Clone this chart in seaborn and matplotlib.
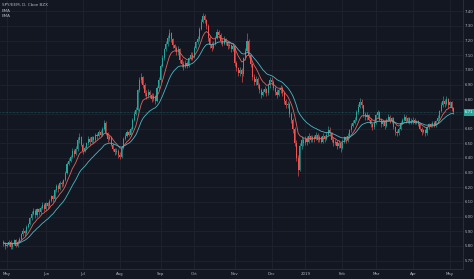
import numpy as np
import pandas as pd
import matplotlib
matplotlib.use("Agg")
import matplotlib.pyplot as plt
import seaborn as sns

# ---------------- data ----------------
title_text = "SPY/EEM, D, Cboe BZX"
ema_labels = ["EMA", "EMA"]
month_labels = ["May", "Jun", "Jul", "Aug", "Sep", "Oct", "Nov", "Dec",
                "2019", "Feb", "Mar", "Apr", "May"]
price_ticks = [7.40, 7.30, 7.20, 7.10, 7.00, 6.90, 6.80, 6.70, 6.60,
               6.50, 6.40, 6.30, 6.20, 6.10, 6.00, 5.90, 5.80, 5.70]
holidays = ["2018-05-28", "2018-07-04", "2018-09-03", "2018-11-22",
            "2018-12-05", "2018-12-25", "2019-01-01", "2019-01-21",
            "2019-02-18", "2019-04-19"]
first_open = 5.83
last_label = "6.71"

closes = [
    5.82, 5.80,
    5.81, 5.83, 5.79, 5.82, 5.84, 5.80, 5.83, 5.85, 5.88, 5.90, 5.89, 5.93, 5.95, 5.99, 6.02, 6.04, 6.01, 6.05, 6.03, 6.06, 6.08, 6.05,
    6.09, 6.07, 6.11, 6.14, 6.12, 6.18, 6.21, 6.19, 6.23, 6.22, 6.25, 6.30, 6.36, 6.38, 6.41, 6.45, 6.43, 6.46, 6.52, 6.54, 6.49,
    6.45, 6.47, 6.50, 6.53, 6.51, 6.54, 6.52, 6.56, 6.55, 6.58, 6.56, 6.60, 6.64, 6.57, 6.53, 6.54, 6.49, 6.46, 6.44, 6.45, 6.42,
    6.41, 6.47, 6.53, 6.55, 6.58, 6.56, 6.60, 6.66, 6.70, 6.73, 6.86, 6.93, 6.95, 6.90, 6.84, 6.82, 6.85, 6.83, 6.80, 6.82, 6.79, 6.88, 6.93,
    7.03, 7.08, 7.14, 7.18, 7.22, 7.25, 7.21, 7.17, 7.15, 7.12, 7.14, 7.07, 7.04, 7.02, 7.05, 7.03, 7.08, 7.10, 7.09,
    7.15, 7.19, 7.21, 7.28, 7.33, 7.37, 7.34, 7.30, 7.22, 7.17, 7.15, 7.18, 7.22, 7.26, 7.24, 7.20, 7.18, 7.21, 7.19, 7.16, 7.17, 7.14, 7.16,
    7.05, 7.01, 6.98, 7.00, 6.97, 7.08, 7.13, 7.20, 7.10, 7.04, 6.95, 6.92, 6.94, 6.90, 6.86, 6.83, 6.85, 6.87, 6.84, 6.90, 6.93,
    6.92, 6.88, 6.85, 6.83, 6.86, 6.88, 6.84, 6.79, 6.76, 6.77, 6.70, 6.66, 6.60, 6.50, 6.40, 6.32, 6.48, 6.52, 6.50,
    6.53, 6.51, 6.55, 6.52, 6.54, 6.53, 6.56, 6.52, 6.54, 6.51, 6.55, 6.53, 6.56, 6.59, 6.57, 6.52, 6.50, 6.51, 6.48, 6.50, 6.47,
    6.51, 6.54, 6.52, 6.55, 6.59, 6.62, 6.64, 6.66, 6.71, 6.75, 6.78, 6.76, 6.70, 6.68, 6.69, 6.66, 6.63, 6.61, 6.64,
    6.69, 6.71, 6.66, 6.63, 6.65, 6.62, 6.66, 6.68, 6.65, 6.67, 6.61, 6.58, 6.57, 6.60, 6.64, 6.66, 6.68, 6.65, 6.67, 6.64, 6.65,
    6.66, 6.64, 6.65, 6.63, 6.60, 6.58, 6.59, 6.57, 6.61, 6.63, 6.62, 6.64, 6.62, 6.65, 6.67, 6.72, 6.76, 6.79, 6.77, 6.80, 6.76,
    6.78, 6.74, 6.71,
]
highs = [
    5.84, 5.83,
    5.82, 5.84, 5.84, 5.83, 5.85, 5.85, 5.84, 5.86, 5.89, 5.92, 5.91, 5.94, 5.96, 6.00, 6.04, 6.06, 6.05, 6.06, 6.06, 6.07, 6.10, 6.09,
    6.10, 6.10, 6.12, 6.15, 6.15, 6.19, 6.22, 6.22, 6.24, 6.24, 6.26, 6.31, 6.37, 6.40, 6.42, 6.47, 6.46, 6.48, 6.54, 6.57, 6.55,
    6.50, 6.48, 6.51, 6.55, 6.54, 6.55, 6.55, 6.57, 6.57, 6.59, 6.59, 6.61, 6.66, 6.65, 6.58, 6.56, 6.55, 6.50, 6.47, 6.47, 6.46,
    6.44, 6.48, 6.54, 6.57, 6.59, 6.59, 6.61, 6.67, 6.72, 6.75, 6.87, 6.95, 6.98, 6.96, 6.91, 6.86, 6.87, 6.86, 6.84, 6.84, 6.83, 6.89, 6.95,
    7.04, 7.10, 7.15, 7.20, 7.24, 7.28, 7.26, 7.22, 7.18, 7.16, 7.16, 7.15, 7.08, 7.06, 7.07, 7.06, 7.09, 7.12, 7.12,
    7.16, 7.20, 7.23, 7.29, 7.35, 7.39, 7.38, 7.35, 7.31, 7.23, 7.19, 7.20, 7.23, 7.28, 7.27, 7.25, 7.22, 7.23, 7.22, 7.20, 7.19, 7.18, 7.17,
    7.17, 7.06, 7.02, 7.02, 7.01, 7.09, 7.15, 7.25, 7.21, 7.11, 7.05, 6.97, 6.96, 6.95, 6.91, 6.88, 6.87, 6.89, 6.88, 6.91, 6.95,
    6.95, 6.93, 6.89, 6.87, 6.88, 6.90, 6.89, 6.85, 6.80, 6.79, 6.78, 6.71, 6.67, 6.61, 6.52, 6.42, 6.50, 6.55, 6.54,
    6.55, 6.55, 6.57, 6.56, 6.56, 6.56, 6.58, 6.57, 6.56, 6.55, 6.57, 6.56, 6.58, 6.62, 6.61, 6.58, 6.54, 6.53, 6.52, 6.52, 6.51,
    6.53, 6.55, 6.55, 6.57, 6.60, 6.64, 6.66, 6.68, 6.73, 6.77, 6.81, 6.80, 6.75, 6.71, 6.71, 6.70, 6.67, 6.64, 6.66,
    6.70, 6.73, 6.72, 6.67, 6.66, 6.66, 6.67, 6.70, 6.69, 6.68, 6.68, 6.62, 6.59, 6.61, 6.65, 6.67, 6.70, 6.69, 6.68, 6.68, 6.67,
    6.68, 6.67, 6.66, 6.66, 6.64, 6.61, 6.60, 6.60, 6.62, 6.64, 6.64, 6.65, 6.65, 6.66, 6.69, 6.73, 6.78, 6.82, 6.80, 6.82, 6.81,
    6.79, 6.79, 6.75,
]
lows = [
    5.80, 5.78,
    5.79, 5.80, 5.78, 5.78, 5.81, 5.79, 5.79, 5.82, 5.84, 5.87, 5.87, 5.88, 5.92, 5.94, 5.98, 6.01, 5.99, 6.00, 6.01, 6.02, 6.05, 6.04,
    6.04, 6.05, 6.06, 6.10, 6.10, 6.11, 6.17, 6.17, 6.18, 6.20, 6.21, 6.24, 6.29, 6.35, 6.37, 6.40, 6.41, 6.42, 6.45, 6.50, 6.48,
    6.43, 6.44, 6.46, 6.49, 6.49, 6.50, 6.50, 6.51, 6.53, 6.54, 6.55, 6.55, 6.59, 6.56, 6.51, 6.52, 6.48, 6.45, 6.42, 6.43, 6.40,
    6.39, 6.40, 6.46, 6.52, 6.54, 6.55, 6.55, 6.59, 6.65, 6.69, 6.72, 6.85, 6.91, 6.88, 6.82, 6.80, 6.81, 6.81, 6.78, 6.79, 6.77, 6.78, 6.87,
    6.92, 7.02, 7.07, 7.13, 7.16, 7.20, 7.19, 7.15, 7.13, 7.10, 7.10, 7.05, 7.02, 7.00, 7.01, 7.01, 7.02, 7.07, 7.07,
    7.08, 7.14, 7.18, 7.20, 7.27, 7.32, 7.32, 7.28, 7.20, 7.15, 7.13, 7.14, 7.17, 7.21, 7.22, 7.18, 7.16, 7.17, 7.17, 7.14, 7.15, 7.12, 7.13,
    7.03, 6.99, 6.96, 6.96, 6.92, 6.96, 7.07, 7.12, 7.08, 7.02, 6.93, 6.90, 6.90, 6.88, 6.84, 6.81, 6.82, 6.84, 6.82, 6.83, 6.88,
    6.90, 6.86, 6.83, 6.81, 6.82, 6.84, 6.82, 6.77, 6.74, 6.74, 6.68, 6.64, 6.57, 6.48, 6.38, 6.28, 6.31, 6.46, 6.48,
    6.49, 6.49, 6.50, 6.51, 6.51, 6.51, 6.52, 6.51, 6.51, 6.50, 6.50, 6.51, 6.52, 6.55, 6.56, 6.51, 6.48, 6.49, 6.46, 6.47, 6.44,
    6.46, 6.50, 6.50, 6.51, 6.54, 6.58, 6.61, 6.63, 6.65, 6.70, 6.74, 6.74, 6.68, 6.66, 6.66, 6.65, 6.61, 6.59, 6.60,
    6.63, 6.67, 6.65, 6.61, 6.62, 6.60, 6.61, 6.65, 6.64, 6.64, 6.60, 6.56, 6.55, 6.56, 6.59, 6.63, 6.65, 6.64, 6.64, 6.63, 6.63,
    6.63, 6.63, 6.63, 6.62, 6.59, 6.56, 6.57, 6.55, 6.56, 6.60, 6.61, 6.61, 6.61, 6.61, 6.64, 6.66, 6.71, 6.75, 6.75, 6.76, 6.74,
    6.75, 6.72, 6.70,
]

# ---------------- style ----------------
BG = "#131722"
GRID = "#1f2330"
SPINE = "#2a2e39"
TXT = "#b2b5be"
UP = "#26a69a"
DOWN = "#ef5350"
EMA_FAST = "#e0645f"
EMA_SLOW = "#4fb6c4"

sns.set_theme(style="dark", rc={"axes.facecolor": BG, "figure.facecolor": BG})
plt.rcParams["font.family"] = ["DejaVu Sans"]

n = len(closes)
dates = pd.bdate_range("2018-04-27", periods=n, freq="C", holidays=holidays)
df = pd.DataFrame({"date": dates, "close": closes, "high": highs, "low": lows})
df["open"] = df["close"].shift(1).fillna(first_open)
df["idx"] = np.arange(n)
df["high"] = df[["high", "open", "close"]].max(axis=1)
df["low"] = df[["low", "open", "close"]].min(axis=1)
df["ema_fast"] = df["close"].ewm(span=9, adjust=False).mean()
df["ema_slow"] = df["close"].ewm(span=21, adjust=False).mean()

W, H = 474, 279
fig = plt.figure(figsize=(W / 100, H / 100), dpi=100)
ax = fig.add_axes([0, 10 / H, 463 / W, 269 / H])
ax.set_facecolor(BG)

up = df["close"] >= df["open"]
colors = np.where(up, UP, DOWN)
ax.vlines(df["idx"], df["low"], df["high"], colors=colors, linewidth=0.45, zorder=3)
body = (df["close"] - df["open"]).abs().clip(lower=0.004)
ax.bar(df["idx"], body, bottom=df[["open", "close"]].min(axis=1), width=0.62,
       color=colors, linewidth=0, zorder=4)

sns.lineplot(data=df, x="idx", y="ema_fast", color=EMA_FAST, linewidth=0.6,
             ax=ax, legend=False, zorder=5)
sns.lineplot(data=df, x="idx", y="ema_slow", color=EMA_SLOW, linewidth=0.6,
             ax=ax, legend=False, zorder=5)

# last price line
last = df["close"].iloc[-1]
ax.axhline(last, color=UP, linewidth=0.4, linestyle=(0, (1, 1.5)), alpha=0.8, zorder=2)

ax.set_xlim(-1.97, 260.4)
ax.set_ylim(5.643, 7.477)

# x ticks at first bar of each month
month_first = df.groupby(df["date"].dt.to_period("M"))["idx"].min().values[1:]
ax.set_xticks(month_first)
ax.set_xticklabels(month_labels)
ax.set_yticks(price_ticks)
# the tick label hidden under the last-price box is left blank
ax.set_yticklabels(["" if abs(v - last) < 0.05 else f"{v:.2f}" for v in price_ticks])
ax.yaxis.tick_right()
ax.tick_params(axis="both", length=0, colors=TXT, labelsize=2.8)
ax.tick_params(axis="y", pad=1.4)
ax.tick_params(axis="x", pad=2.2)
ax.set_xlabel("")
ax.set_ylabel("")
ax.grid(True, color=GRID, linewidth=0.6)
for s in ["top", "left"]:
    ax.spines[s].set_visible(False)
for s in ["right", "bottom"]:
    ax.spines[s].set_color(SPINE)
    ax.spines[s].set_linewidth(0.7)

# last price label box
ax.text(1.0 + 2.0 / 463, last, last_label, transform=ax.get_yaxis_transform(),
        fontsize=2.8, color="white", va="center", ha="left", clip_on=False,
        bbox=dict(boxstyle="square,pad=0.3", facecolor=UP, edgecolor="none"), zorder=10)

# legend text
fig.text(2 / W, 1 - 5.5 / H, title_text, fontsize=3.0, color=TXT, va="center", ha="left")
fig.text(2 / W, 1 - 10.8 / H, ema_labels[0], fontsize=3.0, color=TXT, va="center", ha="left")
fig.text(2 / W, 1 - 16.0 / H, ema_labels[1], fontsize=3.0, color=TXT, va="center", ha="left")

fig.savefig("out.png", dpi=100, facecolor=BG)
